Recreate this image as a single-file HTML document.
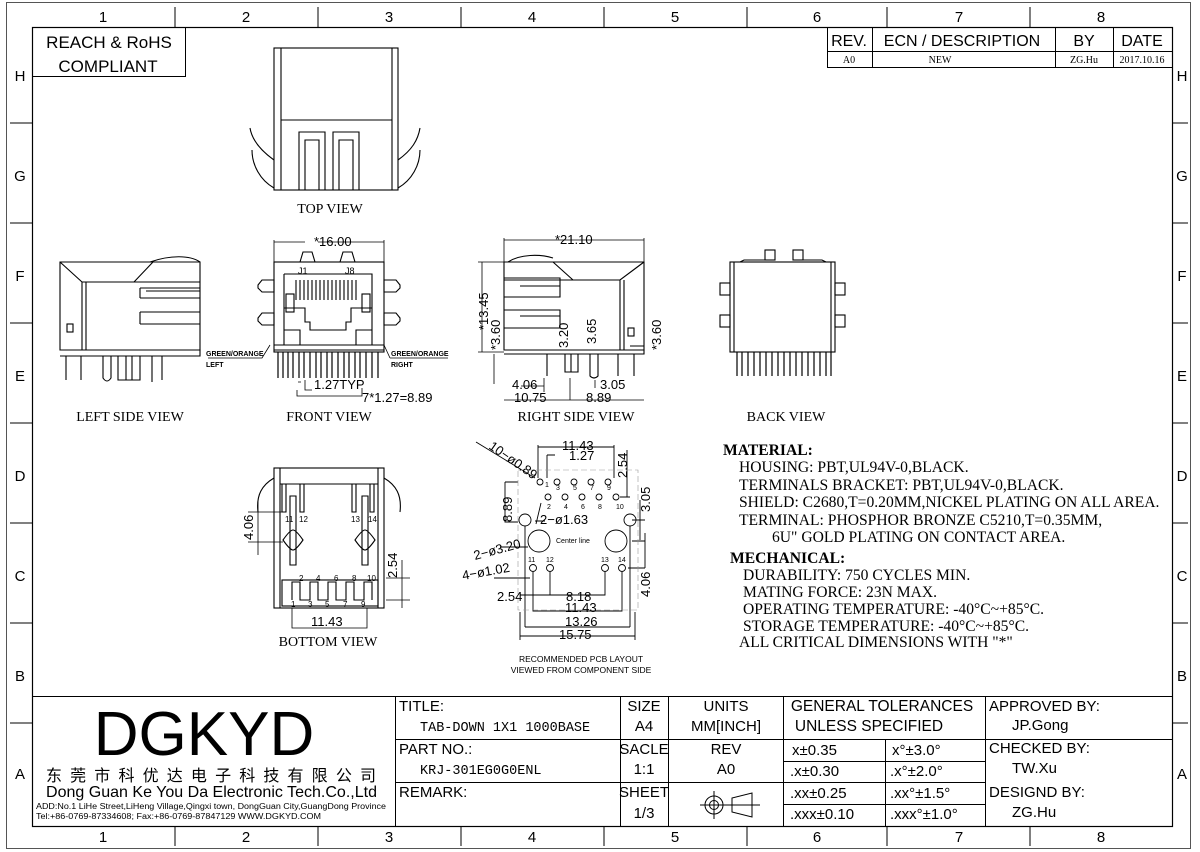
<!DOCTYPE html>
<html><head><meta charset="utf-8"><style>
html,body{margin:0;padding:0;background:#fff;}
svg{display:block;}
text{font-family:"Liberation Sans","Noto Sans CJK SC",sans-serif;fill:#000;}
.s{font-family:"Liberation Serif",serif;}
.m{font-family:"Liberation Mono",monospace;}
</style></head><body>
<svg width="1200" height="852" viewBox="0 0 1200 852" xmlns="http://www.w3.org/2000/svg">
<g fill="none" stroke="#000" stroke-width="1">
<rect x="6.5" y="2.5" width="1184" height="846" stroke="#555"/>
<rect x="32.5" y="27.5" width="1140" height="799" stroke-width="1.2"/>
<path d="M175 7V27M318 7V27M461 7V27M604 7V27M747 7V27M887 7V27M1030 7V27"/>
<path d="M175 826V846M318 826V846M461 826V846M604 826V846M747 826V846M887 826V846M1030 826V846"/>
<path d="M10 123H32M10 223H32M10 323H32M10 423H32M10 523H32M10 623H32M10 723H32"/>
<path d="M1172 123H1188M1172 223H1188M1172 323H1188M1172 423H1188M1172 523H1188M1172 623H1188M1172 723H1188"/>
<rect x="32.5" y="27.5" width="153" height="49"/>
<rect x="827.5" y="27.5" width="345" height="40"/>
<path d="M827 51.5H1172M872.5 27V67M1055.5 27V67M1113.5 27V67"/>
<path d="M32 696.5H1172M395.5 696V826M395 739.5H620M395 782.5H620M620.5 696V826M668.5 696V826M783.5 696V826M985.5 696V826M620 739.5H1172M620 782.5H985M783 761.5H985M783 804.5H985M885.5 739V826"/>
<circle cx="714" cy="805" r="9"/><circle cx="714" cy="805" r="4.5"/>
<path d="M700 805H760M714 791V819M732 798V812L752 817V793Z"/>
</g>

<g font-size="15" text-anchor="middle">
<text x="103" y="22">1</text><text x="246" y="22">2</text><text x="389" y="22">3</text><text x="532" y="22">4</text><text x="675" y="22">5</text><text x="817" y="22">6</text><text x="959" y="22">7</text><text x="1101" y="22">8</text>
<text x="103" y="842">1</text><text x="246" y="842">2</text><text x="389" y="842">3</text><text x="532" y="842">4</text><text x="675" y="842">5</text><text x="817" y="842">6</text><text x="959" y="842">7</text><text x="1101" y="842">8</text>
<text x="20" y="81">H</text><text x="20" y="181">G</text><text x="20" y="281">F</text><text x="20" y="381">E</text><text x="20" y="481">D</text><text x="20" y="581">C</text><text x="20" y="681">B</text><text x="20" y="779">A</text>
<text x="1182" y="81">H</text><text x="1182" y="181">G</text><text x="1182" y="281">F</text><text x="1182" y="381">E</text><text x="1182" y="481">D</text><text x="1182" y="581">C</text><text x="1182" y="681">B</text><text x="1182" y="779">A</text>
</g>
<g font-size="17" text-anchor="middle"><text x="109" y="48">REACH &amp; RoHS</text><text x="108" y="72">COMPLIANT</text></g>
<g font-size="16" text-anchor="middle"><text x="849" y="46">REV.</text><text x="962" y="46">ECN / DESCRIPTION</text><text x="1084" y="46">BY</text><text x="1142" y="46">DATE</text></g>
<g font-size="10" text-anchor="middle" class="s"><text x="849" y="63" class="s">A0</text><text x="940" y="63" class="s">NEW</text><text x="1084" y="63" class="s">ZG.Hu</text><text x="1142" y="63" class="s">2017.10.16</text></g>

<text x="204" y="755" font-size="62" text-anchor="middle">DGKYD</text>
<text x="46" y="781" font-size="16" textLength="330" lengthAdjust="spacing">东莞市科优达电子科技有限公司</text>
<text x="46" y="797" font-size="16" textLength="331" lengthAdjust="spacingAndGlyphs">Dong Guan Ke You Da Electronic Tech.Co.,Ltd</text>
<text x="36" y="809" font-size="8" textLength="350" lengthAdjust="spacingAndGlyphs">ADD:No.1 LiHe Street,LiHeng Village,Qingxi town, DongGuan City,GuangDong Province</text>
<text x="36" y="819" font-size="8" textLength="285" lengthAdjust="spacingAndGlyphs">Tel:+86-0769-87334608; Fax:+86-0769-87847129  WWW.DGKYD.COM</text>
<g font-size="15"><text x="399" y="711">TITLE:</text><text x="399" y="754">PART NO.:</text><text x="399" y="797">REMARK:</text></g>
<text x="420" y="731" font-size="13.5" class="m">TAB-DOWN 1X1 1000BASE</text>
<text x="420" y="774" font-size="13.5" class="m">KRJ-301EG0G0ENL</text>
<g font-size="15" text-anchor="middle">
<text x="644" y="711">SIZE</text><text x="644" y="731">A4</text>
<text x="726" y="711">UNITS</text><text x="726" y="731">MM[INCH]</text>
<text x="644" y="754">SACLE</text><text x="644" y="774">1:1</text>
<text x="726" y="754">REV</text><text x="726" y="774">A0</text>
<text x="644" y="797">SHEET</text><text x="644" y="818">1/3</text>
<text x="882" y="711" font-size="15.5">GENERAL TOLERANCES</text><text x="869" y="731" font-size="15.5">UNLESS SPECIFIED</text>
</g>
<g font-size="15">
<text x="792" y="755">x±0.35</text><text x="892" y="755">x°±3.0°</text>
<text x="790" y="776">.x±0.30</text><text x="890" y="776">.x°±2.0°</text>
<text x="790" y="798">.xx±0.25</text><text x="890" y="798">.xx°±1.5°</text>
<text x="790" y="819">.xxx±0.10</text><text x="890" y="819">.xxx°±1.0°</text>
<text x="989" y="711">APPROVED BY:</text><text x="1012" y="730">JP.Gong</text>
<text x="989" y="753">CHECKED BY:</text><text x="1012" y="773">TW.Xu</text>
<text x="989" y="797">DESIGND BY:</text><text x="1012" y="817">ZG.Hu</text>
</g>

<!-- TOP VIEW -->
<g fill="none" stroke="#000" stroke-width="1.1">
<rect x="274" y="48" width="124" height="142"/>
<path d="M281 48V120H392V48M281 120V190M392 120V190"/>
<path d="M299 190V132H325V190M333 190V132H359V190M305 190V140H319V190M339 190V140H353V190"/>
<path d="M274 160C260 150 252 140 250 128M398 160C412 150 418 140 420 128"/>
<path d="M274 188C260 180 252 165 252 150M398 188C412 180 420 165 420 150"/>
</g>
<text x="330" y="213" font-size="14" text-anchor="middle" class="s">TOP VIEW</text>

<!-- LEFT SIDE VIEW -->
<g fill="none" stroke="#000" stroke-width="1.1">
<path d="M60 262H200V350H60Z"/>
<path d="M60 262L82 282H134L153 262M82 282V350M86 282V350M134 282H200"/>
<path d="M150 262C170 255 190 255 200 262"/>
<path d="M140 288H200M140 298H200M140 288V298M146 291H200"/>
<path d="M140 312H200M140 324H200M140 312V324"/>
<rect x="67" y="324" width="6" height="8"/>
<path d="M60 350H200V356H60M66 356V380M81 356V380M162 356V380M103 356V378Q107 384 111 378V356M118 356H140V380H118ZM126 356V380M132 356V380M152 356V382"/>
</g>
<text x="130" y="421" font-size="14" text-anchor="middle" class="s">LEFT SIDE VIEW</text>

<!-- FRONT VIEW -->
<g fill="none" stroke="#000" stroke-width="1.1">
<rect x="274" y="262" width="110" height="90"/>
<path d="M284 274H372V345M284 274V345M300 262L303 252H312L315 262M340 262L343 252H352L355 262"/>
<path d="M258 285L262 280H274V292H262L258 288ZM384 280H396L400 285V288L396 292H384ZM258 318L262 313H274V325H262L258 321ZM384 313H396L400 318V321L396 325H384Z"/>
<path d="M296 280V300M300 280V300M304 280V300M308 280V300M312 280V300M316 280V300M320 280V300M324 280V300M328 280V300M332 280V300M336 280V300M340 280V300M344 280V300M348 280V300M352 280V300M356 280V300"/>
<path d="M284 308H305V322H310V330H346V322H351V308H372M284 330H300V345M372 330H356V345"/>
<rect x="286" y="294" width="8" height="18"/><rect x="362" y="294" width="8" height="18"/>
<path d="M274 345H384M274 350H384"/>
</g>
<g stroke="#000" stroke-width="1.2">
<path d="M278 352V378M283 352V378M288 352V378M293 352V378M299 352V378M304 352V378M310 352V378M316 352V378M321 352V378M327 352V378M332 352V378M338 352V378M344 352V378M349 352V378M355 352V378M360 352V378M366 352V378M372 352V378M378 352V378"/>
<path d="M208 358H262L270 345M390 358H448M390 358L384 345" fill="none" stroke-width="0.8"/>
<path d="M301 382H298M305 380V390H312M297 390V396H362V388" fill="none" stroke-width="0.8"/>
<path d="M318 242H384M274 242H305M274 240V262M384 240V262" fill="none" stroke-width="0.8"/>
</g>
<text x="314" y="246" font-size="13">*16.00</text>
<text x="298" y="274" font-size="9">J1</text><text x="345" y="274" font-size="9">J8</text>
<text x="206" y="356" font-size="7" font-weight="bold">GREEN/ORANGE</text><text x="206" y="367" font-size="7" font-weight="bold">LEFT</text>
<text x="391" y="356" font-size="7" font-weight="bold">GREEN/ORANGE</text><text x="391" y="367" font-size="7" font-weight="bold">RIGHT</text>
<text x="314" y="389" font-size="13">1.27TYP</text>
<text x="362" y="402" font-size="13">7*1.27=8.89</text>
<text x="329" y="421" font-size="14" text-anchor="middle" class="s">FRONT VIEW</text>

<!-- RIGHT SIDE VIEW -->
<g fill="none" stroke="#000" stroke-width="1.1">
<path d="M504 262H644V350H504Z"/>
<path d="M553 262L573 280H620L644 262M620 280V350M624 280V350M504 280H573"/>
<path d="M508 262C520 254 540 254 553 258"/>
<path d="M504 278H560V297H504M520 286H560"/>
<path d="M504 310H560V328H504M520 316H560"/>
<rect x="628" y="328" width="6" height="8"/>
<path d="M504 350H644V354H504M547 354V376M565 354V372H578V354M571 354V372M590 354V376Q594 380 598 376V354M618 354V376M634 354V376M630 346H644"/>
</g>
<g stroke="#000" stroke-width="0.8" fill="none">
<path d="M504 240H644M504 238V262M644 238V262"/>
<path d="M478 262H504M482 262V352M478 352H504"/>
<path d="M494 354V384M544 378V392M521 386H544M570 378V400M504 400H644M595 380V388"/>
</g>
<text x="555" y="244" font-size="13">*21.10</text>
<text font-size="13" transform="translate(488 330) rotate(-90)">*13.45</text>
<text font-size="13" transform="translate(500 350) rotate(-90)">*3.60</text>
<text font-size="13" transform="translate(568 348) rotate(-90)">3.20</text>
<text font-size="13" transform="translate(596 344) rotate(-90)">3.65</text>
<text font-size="13" transform="translate(661 350) rotate(-90)">*3.60</text>
<text x="512" y="389" font-size="13">4.06</text><text x="600" y="389" font-size="13">3.05</text>
<text x="514" y="402" font-size="13">10.75</text><text x="586" y="402" font-size="13">8.89</text>
<text x="576" y="421" font-size="14" text-anchor="middle" class="s">RIGHT SIDE VIEW</text>

<!-- BACK VIEW -->
<g fill="none" stroke="#000" stroke-width="1.1">
<rect x="730" y="262" width="105" height="90"/>
<path d="M734 262V352M831 262V352M740 262L744 260H770M795 260H822L826 262"/>
<rect x="765" y="250" width="10" height="10"/><rect x="793" y="250" width="10" height="10"/>
<rect x="720" y="283" width="10" height="12"/><rect x="720" y="315" width="10" height="12"/>
<rect x="835" y="283" width="10" height="12"/><rect x="835" y="315" width="10" height="12"/>
</g>
<g stroke="#000" stroke-width="1.2"><path d="M737 352V376M742 352V376M748 352V376M754 352V376M760 352V376M766 352V376M772 352V376M778 352V376M784 352V376M790 352V376M796 352V376M802 352V376M808 352V376M814 352V376M820 352V376M826 352V376M831 352V376"/></g>
<text x="786" y="421" font-size="14" text-anchor="middle" class="s">BACK VIEW</text>

<!-- BOTTOM VIEW -->
<g fill="none" stroke="#000" stroke-width="1.1">
<rect x="274" y="468" width="110" height="140"/>
<path d="M280 468V608M378 468V608M280 484H378"/>
<path d="M274 478C262 485 256 495 258 512M384 478C396 485 402 495 400 512"/>
<path d="M282 484V512H286V484M300 484V512H304V484M352 484V512H356V484M370 484V512H374V484"/>
<path d="M290 496H296V565H290ZM362 496H368V565H362Z"/>
<path d="M283 540Q290 530 293 530Q296 530 303 540Q296 550 293 550Q290 550 283 540ZM355 540Q362 530 365 530Q368 530 375 540Q368 550 365 550Q362 550 355 540Z"/>
<rect x="282" y="580" width="96" height="26"/>
<path d="M292 600V582H300V600H310V582H318V600H328V582H336V600H346V582H354V600H364V582H372V600"/>
</g>
<g stroke="#000" stroke-width="0.8" fill="none"><path d="M248 512H282M248 542H283M258 500V555M292 608V628H367V608M386 578H410M386 600H410M402 560V608"/></g>
<g font-size="8"><text x="285" y="522">11</text><text x="299" y="522">12</text><text x="351" y="522">13</text><text x="368" y="522">14</text>
<text x="299" y="581">2</text><text x="316" y="581">4</text><text x="334" y="581">6</text><text x="352" y="581">8</text><text x="367" y="581">10</text>
<text x="291" y="607">1</text><text x="308" y="607">3</text><text x="325" y="607">5</text><text x="343" y="607">7</text><text x="361" y="607">9</text></g>
<text font-size="13" transform="translate(253 540) rotate(-90)">4.06</text>
<text font-size="13" transform="translate(397 578) rotate(-90)">2.54</text>
<text x="311" y="626" font-size="13">11.43</text>
<text x="328" y="646" font-size="14" text-anchor="middle" class="s">BOTTOM VIEW</text>

<!-- PCB LAYOUT -->
<g fill="none" stroke="#000" stroke-width="0.9">
<circle cx="540" cy="482" r="3"/><circle cx="557" cy="482" r="3"/><circle cx="574" cy="482" r="3"/><circle cx="591" cy="482" r="3"/><circle cx="608" cy="482" r="3"/>
<circle cx="548" cy="497" r="3"/><circle cx="565" cy="497" r="3"/><circle cx="582" cy="497" r="3"/><circle cx="599" cy="497" r="3"/><circle cx="616" cy="497" r="3"/>
<circle cx="525" cy="520" r="6"/><circle cx="630" cy="520" r="6"/>
<circle cx="539" cy="541" r="11"/><circle cx="616" cy="541" r="11"/>
<circle cx="533" cy="568" r="3.5"/><circle cx="550" cy="568" r="3.5"/><circle cx="605" cy="568" r="3.5"/><circle cx="622" cy="568" r="3.5"/>
<path d="M538 445V478M614 445V478M538 447H614M547 455V478M555 455H547M620 455H627M627 450V497M620 497H630M505 482H518M505 482V522H518M632 520H645M632 541H645M645 533V568M628 568H645M640 500V540"/>
<path d="M533 572V611H622V572M550 572V595H605V572M520 595H550M525 526V627M630 526V627M525 627H630M520 636H635M520 612V640M635 612V640"/>
<path d="M500 547H528M494 578H530M476 442L535 478M536 524L541 503M535 521H545"/>
</g>
<rect x="518" y="470" width="120" height="140" fill="none" stroke="#999" stroke-width="0.6" stroke-dasharray="6 3"/>
<g font-size="13">
<text x="562" y="450">11.43</text><text x="569" y="460">1.27</text>
<text font-size="13" transform="translate(627 478) rotate(-90)">2.54</text>
<text font-size="13" transform="translate(650 512) rotate(-90)">3.05</text>
<text font-size="13" transform="translate(512 522) rotate(-90)">8.89</text>
<text x="540" y="524">2−ø1.63</text>
<text font-size="13" transform="translate(475 560) rotate(-15)">2−ø3.20</text>
<text font-size="13" transform="translate(463 580) rotate(-10)">4−ø1.02</text>
<text font-size="13" transform="translate(488 448) rotate(35)">10−ø0.89</text>
<text x="497" y="601">2.54</text><text x="566" y="601">8.18</text><text x="565" y="612">11.43</text><text x="565" y="626">13.26</text><text x="559" y="639">15.75</text>
<text font-size="13" transform="translate(650 597) rotate(-90)">4.06</text>
</g>
<text x="556" y="543" font-size="7" fill="#888">Center line</text>
<g font-size="7"><text x="545" y="487">1</text><text x="556" y="490">3</text><text x="573" y="490">5</text><text x="590" y="490">7</text><text x="607" y="490">9</text>
<text x="547" y="509">2</text><text x="564" y="509">4</text><text x="581" y="509">6</text><text x="598" y="509">8</text><text x="616" y="509">10</text>
<text x="528" y="562">11</text><text x="546" y="562">12</text><text x="601" y="562">13</text><text x="618" y="562">14</text></g>
<text x="581" y="662" font-size="8.5" text-anchor="middle">RECOMMENDED PCB LAYOUT</text>
<text x="581" y="673" font-size="8.5" text-anchor="middle">VIEWED FROM COMPONENT SIDE</text>

<!-- MATERIAL -->
<g class="s" font-size="15.6">
<text x="723" y="455" font-weight="bold" class="s">MATERIAL:</text>
<text x="739" y="472" class="s">HOUSING: PBT,UL94V-0,BLACK.</text>
<text x="739" y="490" class="s">TERMINALS BRACKET: PBT,UL94V-0,BLACK.</text>
<text x="739" y="507" class="s">SHIELD: C2680,T=0.20MM,NICKEL PLATING ON ALL AREA.</text>
<text x="739" y="525" class="s">TERMINAL: PHOSPHOR BRONZE C5210,T=0.35MM,</text>
<text x="772" y="542" class="s">6U" GOLD PLATING ON CONTACT AREA.</text>
<text x="730" y="563" font-weight="bold" class="s">MECHANICAL:</text>
<text x="743" y="580" class="s">DURABILITY: 750 CYCLES MIN.</text>
<text x="743" y="597" class="s">MATING FORCE: 23N MAX.</text>
<text x="743" y="614" class="s">OPERATING TEMPERATURE: -40°C~+85°C.</text>
<text x="743" y="631" class="s">STORAGE TEMPERATURE: -40°C~+85°C.</text>
<text x="739" y="647" class="s">ALL CRITICAL DIMENSIONS WITH "*"</text>
</g>
</svg>
</body></html>
